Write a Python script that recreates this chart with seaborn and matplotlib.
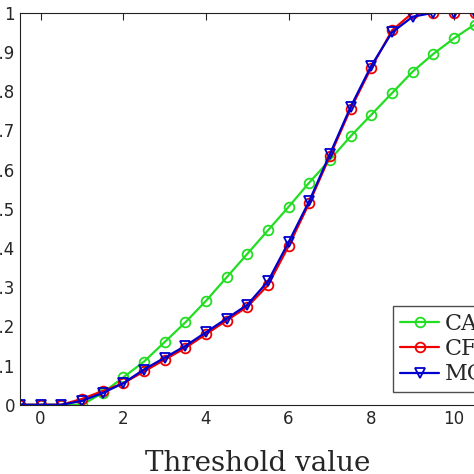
import matplotlib
matplotlib.use("Agg")
import matplotlib.pyplot as plt
import seaborn as sns
import pandas as pd

x = [-0.5,0,0.5,1,1.5,2,2.5,3,3.5,4,4.5,5,5.5,6,6.5,7,7.5,8,8.5,9,9.5,10,10.5]
ca = [0,0,0,0.0,0.03,0.07,0.11,0.16,0.21,0.265,0.325,0.385,0.445,0.505,0.567,0.625,0.685,0.74,0.795,0.85,0.895,0.935,0.97]
cf = [0,0,0,0.015,0.035,0.055,0.085,0.115,0.145,0.18,0.215,0.25,0.305,0.405,0.515,0.635,0.755,0.86,0.955,1,1,1,1]
mc = [0,0,0,0.01,0.03,0.055,0.09,0.12,0.15,0.185,0.22,0.255,0.315,0.415,0.52,0.64,0.76,0.865,0.95,0.99,1,1,1]
names = ["CA", "CF", "MC"]

sns.set_style("white")
fig = plt.figure(figsize=(4.74, 4.74), dpi=100)
ax = fig.add_axes([0.042, 0.146, 1.003, 0.827])
styles = [("#22dd22", "o"), ("#ee0000", "o"), ("#0000cc", "v")]
for name, ys, (c, m) in zip(names, [ca, cf, mc], styles):
    df = pd.DataFrame({"x": x, "y": ys})
    sns.lineplot(data=df, x="x", y="y", ax=ax, color=c, marker=m, markersize=7,
                 markerfacecolor="none", markeredgecolor=c, markeredgewidth=1.3,
                 linewidth=1.6, label=name)
ax.set_xlim(-0.5, 11)
ax.set_ylim(0, 1)
ax.set_xticks([0, 2, 4, 6, 8, 10])
ax.set_yticks([0, 0.1, 0.2, 0.3, 0.4, 0.5, 0.6, 0.7, 0.8, 0.9, 1])
ax.set_yticklabels(["0", "0.1", "0.2", "0.3", "0.4", "0.5", "0.6", "0.7", "0.8", "0.9", "1"])
ax.tick_params(direction="in", top=True, right=True, labelsize=12, length=5)
for s in ax.spines.values():
    s.set_color("#222222")
ax.set_ylabel("")
ax.set_xlabel("Threshold value", fontsize=20, family="DejaVu Serif", labelpad=16)
leg = ax.legend(loc="lower left", bbox_to_anchor=(0.83, 0.173), bbox_transform=fig.transFigure,
                fontsize=16, frameon=True, fancybox=False, edgecolor="#222222",
                handlelength=1.75, handletextpad=0.25, borderpad=0.3,
                borderaxespad=0, labelspacing=0.15)
leg.get_frame().set_linewidth(1.0)
for t in leg.get_texts():
    t.set_family("DejaVu Serif")
fig.savefig("out.png", dpi=100)
